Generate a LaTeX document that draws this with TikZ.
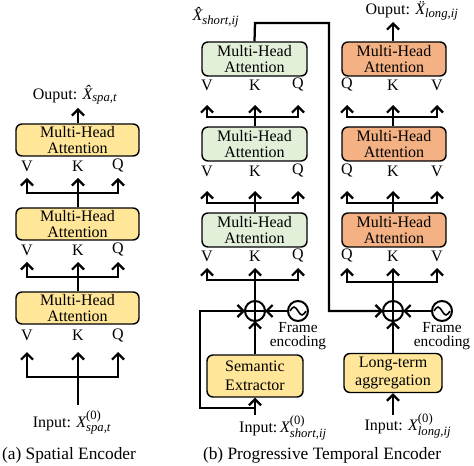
\documentclass[tikz,border=0pt]{standalone}
\usepackage{fontspec}
\setmainfont{Liberation Serif}
\usetikzlibrary{arrows.meta}
\definecolor{ylw}{HTML}{FFE699}
\definecolor{grn}{HTML}{E2F0D9}
\definecolor{org}{HTML}{F4B183}
\newcommand\subtx[1]{\mbox{\fontsize{9.5}{9.5}\selectfont\itshape #1}}
\newcommand\suptx[1]{\mbox{\fontsize{9.5}{9.5}\selectfont #1}}
\newcommand\Xin[1]{$\mbox{\itshape X}^{\suptx{(0)}}_{\subtx{#1}}$}
\tikzset{
  box/.style={draw, line width=1.1pt, rounded corners=4.5pt, inner sep=0pt, align=center, font=\fontsize{12}{12.5}\selectfont},
  mhaA/.style={box, fill=ylw, minimum width=92.25pt, minimum height=24pt},
  mhaS/.style={box, fill=grn, minimum width=78.75pt, minimum height=25.5pt},
  mhaL/.style={box, fill=org, minimum width=78pt, minimum height=25.5pt},
  conn/.style={line width=1.7pt},
  arr/.style={conn, -{Straight Barb[length=4.5pt,width=9pt]}},
  darr/.style={conn, {Straight Barb[length=4.5pt,width=9pt]}-{Straight Barb[length=4.5pt,width=9pt]}},
  lbl/.style={inner sep=0pt, font=\fontsize{12}{12}\selectfont},
  txt/.style={inner sep=0pt, font=\fontsize{12}{12}\selectfont},
  captxt/.style={inner sep=0pt, font=\fontsize{13}{13}\selectfont},
  ring/.style={draw, circle, line width=1.5pt, minimum size=15pt, inner sep=0pt, outer sep=0pt},
}
\newcommand\branch[6]{%
  \coordinate (#1l) at (#2,#5); \coordinate (#1m) at (#3,#5); \coordinate (#1r) at (#4,#5);
  \coordinate (#1lt) at (#2,#6); \coordinate (#1mt) at (#3,#6); \coordinate (#1rt) at (#4,#6);
  \draw[darr] (#1lt) -- (#1l) -- (#1r) -- (#1rt);
}
\begin{document}
\begin{tikzpicture}[x=0.75pt,y=-0.75pt]
\useasboundingbox (0,0) rectangle (474,466);
% ---------- (a) spatial encoder ----------
\node[mhaA] (a1) at (77.5,140) {Multi-Head\\Attention};
\node[mhaA] (a2) at (77.5,224) {Multi-Head\\Attention};
\node[mhaA] (a3) at (77.5,308) {Multi-Head\\Attention};
\foreach \n/\y in {1/166,2/250,3/335}{
  \node[lbl] (av\n) at (27,\y) {V};
  \node[lbl] (ak\n) at (78,\y) {K};
  \node[lbl] (aq\n) at (118,\y) {Q};
}
\branch{ab1}{27}{78}{118}{193}{178}
\branch{ab2}{27}{78}{118}{277}{262}
\branch{ab3}{27}{78}{118}{377}{352}
\draw[arr] (a2.north -| ab1m) -- (ab1mt);
\draw[arr] (a3.north -| ab2m) -- (ab2mt);
\coordinate (ain) at (78,405);
\draw[arr] (ain) -- (ab3mt);
\coordinate (aout) at (78,108);
\draw[arr] (a1.north -| aout) -- (aout);
\node[txt] (aoutt) at (75,95) {Ouput: $\mbox{\itshape\^X}_{\subtx{spa,t}}$};
\node[txt] (aint) at (72,422) {Input: \Xin{spa,t}};
\node[captxt] (capa) at (69,455) {(a) Spatial Encoder};
% ---------- short-term branch ----------
\node[mhaS] (s1) at (254.5,59) {Multi-Head\\Attention};
\node[mhaS] (s2) at (254.5,144) {Multi-Head\\Attention};
\node[mhaS] (s3) at (254.5,230) {Multi-Head\\Attention};
\foreach \n/\y in {1/85,2/171,3/256}{
  \node[lbl] (sv\n) at (207,\y) {V};
  \node[lbl] (sk\n) at (255,\y) {K};
  \node[lbl] (sq\n) at (298,\y) {Q};
}
\branch{sb1}{207}{255}{298}{117}{105}
\branch{sb2}{207}{255}{298}{203}{191}
\branch{sb3}{207}{255}{298}{280}{268}
\draw[arr] (s2.north -| sb1m) -- (sb1mt);
\draw[arr] (s3.north -| sb2m) -- (sb2mt);
\node[ring] (sc) at (255,311) {};
\draw[line width=1.2pt] (sc.north) -- (sc.south) (sc.west) -- (sc.east);
\draw[arr] (sc.north) -- (sb3mt);
\node[ring] (sf) at (298,311) {};
\draw[line width=1.2pt, shift={(sf.center)}] (-8,0) sin (-4,-4) cos (0,0) sin (4,4) cos (8,0);
\draw[arr] (sf.west) -- (sc.east);
\node[txt, align=center, font=\fontsize{11.5}{10}\selectfont] (sft) at (298,336) {Frame\\encoding};
\node[box, fill=ylw, minimum width=72pt, minimum height=31.5pt, font=\fontsize{12}{14}\selectfont] (se) at (255,376) {Semantic\\Extractor};
\draw[arr] (se.north) -- (sc.south);
\coordinate (sin) at (255,415);
\coordinate (sj) at (255,408);
\coordinate (sb) at (200,408);
\coordinate (sbt) at (200,311);
\draw[arr] (sin) -- (se.south);
\draw[arr] (sj) -- (sb) -- (sbt) -- (sc.west);
\node[txt] (sint) at (283,428) {Input:\,\Xin{short,ij}};
\node[txt] (soutt) at (216,17) {$\mbox{\itshape\^X}_{\subtx{short,ij}}$};
% ---------- long-term branch ----------
\node[mhaL] (l1) at (394,59) {Multi-Head\\Attention};
\node[mhaL] (l2) at (394,144) {Multi-Head\\Attention};
\node[mhaL] (l3) at (394,230) {Multi-Head\\Attention};
\foreach \n/\y in {1/85,2/171,3/256}{
  \node[lbl] (lq\n) at (347,\y) {Q};
  \node[lbl] (lk\n) at (393,\y) {K};
  \node[lbl] (lv\n) at (437,\y) {V};
}
\branch{lb1}{347}{393}{437}{117}{105}
\branch{lb2}{347}{393}{437}{203}{191}
\branch{lb3}{347}{393}{437}{282}{268}
\draw[arr] (l2.north -| lb1m) -- (lb1mt);
\draw[arr] (l3.north -| lb2m) -- (lb2mt);
\node[ring] (lc) at (393,311) {};
\draw[line width=1.2pt] (lc.north) -- (lc.south) (lc.west) -- (lc.east);
\draw[arr] (lc.north) -- (lb3mt);
\node[ring] (lf) at (442,311) {};
\draw[line width=1.2pt, shift={(lf.center)}] (-8,0) sin (-4,-4) cos (0,0) sin (4,4) cos (8,0);
\draw[arr] (lf.west) -- (lc.east);
\node[txt, align=center, font=\fontsize{11.5}{10}\selectfont] (lft) at (442,336) {Frame\\encoding};
\node[box, fill=ylw, minimum width=73.5pt, minimum height=29.25pt, font=\fontsize{12}{14}\selectfont] (la) at (393,373) {Long-term\\aggregation};
\draw[arr] (la.north) -- (lc.south);
\coordinate (lin) at (393,415);
\draw[arr] (lin) -- (la.south);
\node[txt] (lint) at (408,426) {Input: \Xin{long,ij}};
\coordinate (lout) at (393,22);
\draw[arr] (l1.north -| lout) -- (lout);
\node[txt] (loutt) at (412,11) {Ouput: $\mbox{\itshape\"X}_{\subtx{long,ij}}$};
% short output routed into long-term fusion
\coordinate (o1) at (255,23);
\coordinate (o2) at (329,23);
\coordinate (o3) at (329,311);
\draw[arr] (s1.north) -- (o1) -- (o2) -- (o3) -- (lc.west);
% caption
\node[captxt] (capb) at (322,455) {(b) Progressive Temporal Encoder};
\end{tikzpicture}
\end{document}
